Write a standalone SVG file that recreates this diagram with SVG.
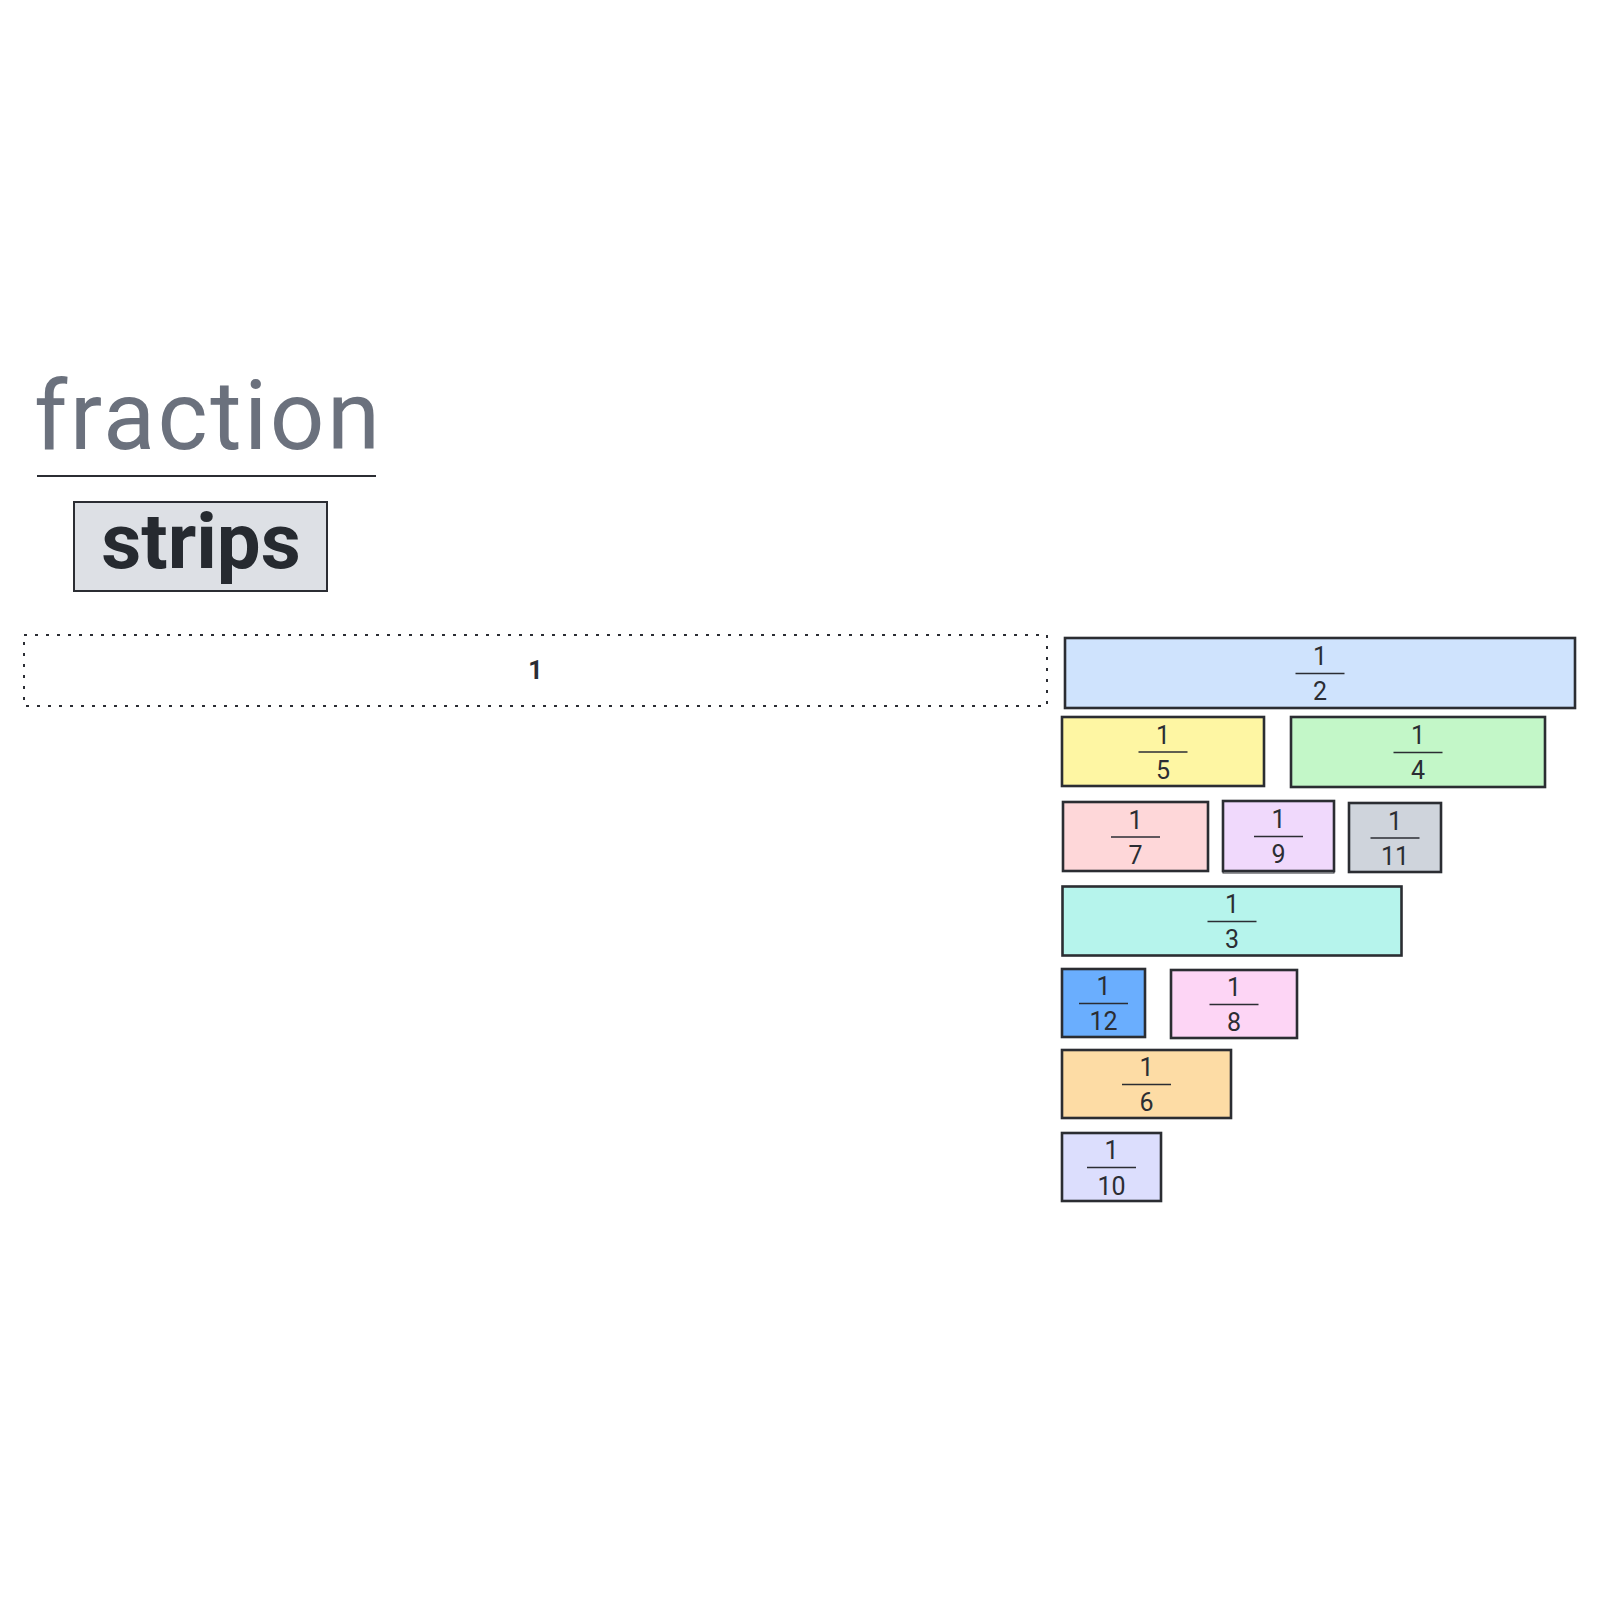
<svg xmlns="http://www.w3.org/2000/svg" width="1600" height="1600" viewBox="0 0 1600 1600">
<style>
.box{stroke:#2b2d32;stroke-width:2.6}
.num{font-family:Roboto,"Liberation Sans",sans-serif;font-size:25px;fill:#2b2d33;text-anchor:middle}
.bar{stroke:#2b2d33;stroke-width:1.6}
</style>
<rect width="1600" height="1600" fill="#ffffff"/>
<g id="title">
<text x="34" y="449" font-family="Roboto, 'Liberation Sans', sans-serif" font-size="96" fill="#6b717d" textLength="346" lengthAdjust="spacing">fraction</text>
<line x1="37" y1="476" x2="376" y2="476" stroke="#2b2d33" stroke-width="2"/>
</g>
<g id="subtitle">
<rect x="74" y="502" width="253" height="89" fill="#dde0e5" stroke="#2b2d33" stroke-width="2"/>
<text x="201" y="568" font-family="Roboto, 'Liberation Sans', sans-serif" font-size="78" font-weight="700" fill="#262a30" text-anchor="middle">strips</text>
</g>
<g id="whole">
<rect x="24" y="635" width="1023" height="71" fill="none" stroke="#2b2d33" stroke-width="2" stroke-dasharray="3 8"/>
<text x="535.5" y="679" class="num" font-weight="700">1</text>
</g>
<g id="half">
<rect class="box" x="1065" y="638" width="510" height="70" fill="#cfe3fd"/>
<text class="num" x="1320" y="665">1</text><line class="bar" x1="1295.5" y1="673.5" x2="1344.5" y2="673.5"/><text class="num" x="1320" y="700">2</text>
</g>
<g id="fifth">
<rect class="box" x="1062" y="717" width="202" height="69" fill="#fef6a3"/>
<text class="num" x="1163" y="743.5">1</text><line class="bar" x1="1138.5" y1="752" x2="1187.5" y2="752"/><text class="num" x="1163" y="778.5">5</text>
</g>
<g id="quarter">
<rect class="box" x="1291" y="717" width="254" height="70" fill="#c3f7c8"/>
<text class="num" x="1418" y="744">1</text><line class="bar" x1="1393.5" y1="752.5" x2="1442.5" y2="752.5"/><text class="num" x="1418" y="779">4</text>
</g>
<g id="seventh">
<rect class="box" x="1063" y="802" width="145" height="69" fill="#fed7d9"/>
<text class="num" x="1135.5" y="828.5">1</text><line class="bar" x1="1111" y1="837" x2="1160" y2="837"/><text class="num" x="1135.5" y="863.5">7</text>
</g>
<g id="ninth">
<rect x="1223" y="803" width="111" height="70" fill="none" stroke="#2b2d32" stroke-width="1"/>
<rect class="box" x="1223" y="801" width="111" height="70" fill="#f0d9fc"/>
<text class="num" x="1278.5" y="828">1</text><line class="bar" x1="1254" y1="836.5" x2="1303" y2="836.5"/><text class="num" x="1278.5" y="863">9</text>
</g>
<g id="eleventh">
<rect class="box" x="1349" y="803" width="92" height="69" fill="#cfd4dc"/>
<text class="num" x="1395" y="829.5">1</text><line class="bar" x1="1370.5" y1="838" x2="1419.5" y2="838"/><text class="num" x="1395" y="864.5">11</text>
</g>
<g id="third">
<rect class="box" x="1062.5" y="886.5" width="339" height="69" fill="#b6f4ec" stroke-width="3"/>
<text class="num" x="1232" y="913">1</text><line class="bar" x1="1207.5" y1="921.5" x2="1256.5" y2="921.5"/><text class="num" x="1232" y="948">3</text>
</g>
<g id="twelfth">
<rect class="box" x="1062" y="969" width="83" height="68" fill="#6aaefe"/>
<text class="num" x="1103.5" y="995">1</text><line class="bar" x1="1079" y1="1003.5" x2="1128" y2="1003.5"/><text class="num" x="1103.5" y="1030">12</text>
</g>
<g id="eighth">
<rect class="box" x="1171" y="970" width="126" height="68" fill="#fdd5f5"/>
<text class="num" x="1234" y="996">1</text><line class="bar" x1="1209.5" y1="1004.5" x2="1258.5" y2="1004.5"/><text class="num" x="1234" y="1031">8</text>
</g>
<g id="sixth">
<rect class="box" x="1062" y="1050" width="169" height="68" fill="#fddca5"/>
<text class="num" x="1146.5" y="1076">1</text><line class="bar" x1="1122" y1="1084.5" x2="1171" y2="1084.5"/><text class="num" x="1146.5" y="1111">6</text>
</g>
<g id="tenth">
<rect class="box" x="1062" y="1133" width="99" height="68" fill="#dcdefd"/>
<text class="num" x="1111.5" y="1159">1</text><line class="bar" x1="1087" y1="1167.5" x2="1136" y2="1167.5"/><text class="num" x="1111.5" y="1194.5">10</text>
</g>
<g id="connectors"></g>
</svg>
